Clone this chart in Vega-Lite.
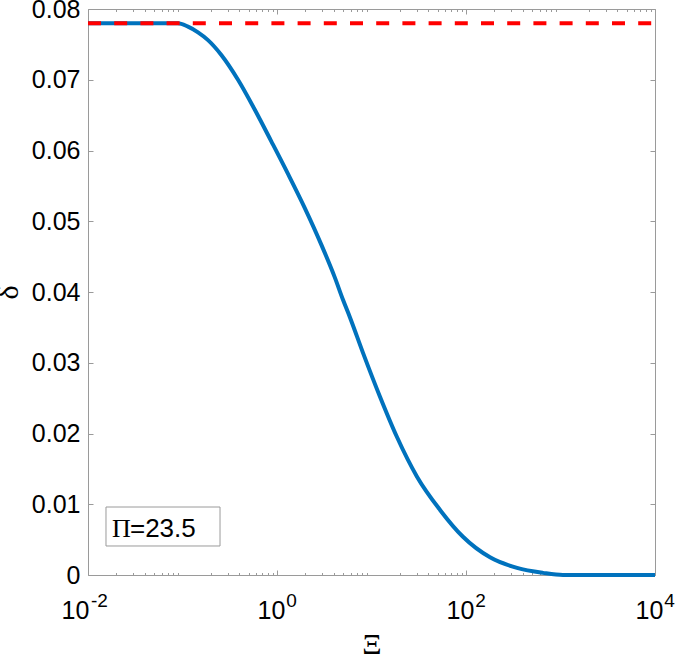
{
  "$schema": "https://vega.github.io/schema/vega-lite/v6.json",
  "width": 567,
  "height": 566,
  "autosize": {"type": "none"},
  "padding": {"left": 88, "top": 9, "right": 20, "bottom": 79},
  "background": "white",
  "config": {
    "view": {"stroke": "#9a9a9a", "strokeWidth": 1},
    "axis": {"grid": false, "domain": false, "tickColor": "#9a9a9a", "tickWidth": 1, "labelColor": "black", "titleColor": "black", "titleFontWeight": "normal"}
  },
  "datasets": {
    "curve": [
      {"xi": 0.01, "delta": 0.078},
      {"xi": 0.03, "delta": 0.078},
      {"xi": 0.06, "delta": 0.078},
      {"xi": 0.0895, "delta": 0.0780},
      {"xi": 0.1143, "delta": 0.0775},
      {"xi": 0.1459, "delta": 0.0767},
      {"xi": 0.1862, "delta": 0.0756},
      {"xi": 0.2576, "delta": 0.0735},
      {"xi": 0.3867, "delta": 0.0700},
      {"xi": 0.5808, "delta": 0.0658},
      {"xi": 0.8704, "delta": 0.0613},
      {"xi": 1.307, "delta": 0.0567},
      {"xi": 1.964, "delta": 0.0519},
      {"xi": 2.943, "delta": 0.0467},
      {"xi": 4.079, "delta": 0.0421},
      {"xi": 4.993, "delta": 0.0389},
      {"xi": 5.92, "delta": 0.0364},
      {"xi": 8.13, "delta": 0.0314},
      {"xi": 12.3, "delta": 0.0252},
      {"xi": 18.6, "delta": 0.0195},
      {"xi": 30.3, "delta": 0.0139},
      {"xi": 53.1, "delta": 0.0092},
      {"xi": 92.9, "delta": 0.0054},
      {"xi": 179.5, "delta": 0.0025},
      {"xi": 346.7, "delta": 0.0010},
      {"xi": 653, "delta": 0.0003},
      {"xi": 1062, "delta": 0.0},
      {"xi": 3162, "delta": 0.0},
      {"xi": 10000, "delta": 0.0}
    ],
    "ref": [
      {"xi": 0.01, "delta": 0.078},
      {"xi": 10000, "delta": 0.078}
    ],
    "box": [
      {"x1": 0.0155, "x2": 0.2495, "y1": 0.0041, "y2": 0.00961}
    ],
    "sym": [
      {"xi": 0.01795, "delta": 0.00537, "label": "Π"}
    ],
    "val": [
      {"xi": 0.0278, "delta": 0.00537, "label": "=23.5"}
    ]
  },
  "resolve": {"axis": {"x": "independent", "y": "independent"}},
  "layer": [
    {
      "data": {"name": "curve"},
      "mark": {"type": "line", "color": "#0072BD", "strokeWidth": 4, "interpolate": "monotone"},
      "encoding": {
        "x": {
          "field": "xi", "type": "quantitative",
          "scale": {"type": "log", "domain": [0.01, 10000], "nice": false},
          "axis": {
            "orient": "bottom",
            "values": [0.01, 1, 100, 10000],
            "labelExpr": "'10'",
            "tickSize": -5,
            "labelPadding": 48,
            "labelBaseline": "alphabetic",
            "labelOffset": {"condition": {"test": "datum.value < 0.1", "value": -13}, "value": -6},
            "labelFont": "Liberation Sans",
            "labelFontSize": 25,
            "labelFlush": false,
            "labelOverlap": false,
            "labelBound": false,
            "title": "Ξ",
            "titleFont": "Liberation Serif",
            "titleFontSize": 30,
            "titlePadding": 6
          }
        },
        "y": {
          "field": "delta", "type": "quantitative",
          "scale": {"domain": [0, 0.08], "nice": false, "zero": true},
          "axis": {
            "orient": "left",
            "values": [0, 0.01, 0.02, 0.03, 0.04, 0.05, 0.06, 0.07, 0.08],
            "labelExpr": "datum.value == 0 ? '0' : format(datum.value, '.2f')",
            "tickSize": -5,
            "labelPadding": 13,
            "labelFont": "Liberation Sans",
            "labelFontSize": 25,
            "labelFlush": false,
            "labelOverlap": false,
            "labelBound": false,
            "title": "δ",
            "titleFont": "Liberation Serif",
            "titleFontSize": 30,
            "titlePadding": 8
          }
        }
      }
    },
    {
      "data": {"name": "ref"},
      "mark": {"type": "line", "color": "#FF0000", "strokeWidth": 4, "strokeDash": [13, 13.2]},
      "encoding": {
        "x": {
          "field": "xi", "type": "quantitative",
          "scale": {"type": "log", "domain": [0.01, 10000], "nice": false},
          "axis": {
            "orient": "bottom",
            "values": [0.02, 0.03, 0.04, 0.05, 0.06, 0.07, 0.08, 0.09, 0.2, 0.3, 0.4, 0.5, 0.6, 0.7, 0.8, 0.9, 2, 3, 4, 5, 6, 7, 8, 9, 20, 30, 40, 50, 60, 70, 80, 90, 200, 300, 400, 500, 600, 700, 800, 900, 2000, 3000, 4000, 5000, 6000, 7000, 8000, 9000],
            "labels": false,
            "tickSize": -2.5,
            "title": null
          }
        },
        "y": {
          "field": "delta", "type": "quantitative",
          "scale": {"domain": [0, 0.08], "nice": false, "zero": true},
          "axis": {
            "orient": "right",
            "values": [0, 0.01, 0.02, 0.03, 0.04, 0.05, 0.06, 0.07, 0.08],
            "labels": false,
            "tickSize": -5,
            "title": null
          }
        }
      }
    },
    {
      "data": {"name": "box"},
      "mark": {"type": "rect", "fill": "white", "stroke": "#9a9a9a", "strokeWidth": 1},
      "encoding": {
        "x": {
          "field": "x1", "type": "quantitative",
          "scale": {"type": "log", "domain": [0.01, 10000], "nice": false},
          "axis": {
            "orient": "top",
            "values": [0.01, 1, 100, 10000],
            "labels": false,
            "tickSize": -5,
            "title": null
          }
        },
        "x2": {"field": "x2"},
        "y": {
          "field": "y1", "type": "quantitative",
          "scale": {"domain": [0, 0.08], "nice": false, "zero": true},
          "axis": null
        },
        "y2": {"field": "y2"}
      }
    },
    {
      "data": {"name": "sym"},
      "mark": {"type": "text", "align": "left", "baseline": "alphabetic", "font": "Liberation Serif", "fontSize": 26, "color": "black"},
      "encoding": {
        "x": {
          "field": "xi", "type": "quantitative",
          "scale": {"type": "log", "domain": [0.01, 10000], "nice": false},
          "axis": {
            "orient": "top",
            "values": [0.02, 0.03, 0.04, 0.05, 0.06, 0.07, 0.08, 0.09, 0.2, 0.3, 0.4, 0.5, 0.6, 0.7, 0.8, 0.9, 2, 3, 4, 5, 6, 7, 8, 9, 20, 30, 40, 50, 60, 70, 80, 90, 200, 300, 400, 500, 600, 700, 800, 900, 2000, 3000, 4000, 5000, 6000, 7000, 8000, 9000],
            "labels": false,
            "tickSize": -2.5,
            "title": null
          }
        },
        "y": {
          "field": "delta", "type": "quantitative",
          "scale": {"domain": [0, 0.08], "nice": false, "zero": true},
          "axis": null
        },
        "text": {"field": "label"}
      }
    },
    {
      "data": {"name": "val"},
      "mark": {"type": "text", "align": "left", "baseline": "alphabetic", "font": "Liberation Sans", "fontSize": 26, "color": "black"},
      "encoding": {
        "x": {
          "field": "xi", "type": "quantitative",
          "scale": {"type": "log", "domain": [0.01, 10000], "nice": false},
          "axis": {
            "orient": "bottom",
            "values": [0.01, 1, 100, 10000],
            "ticks": false,
            "labelExpr": "datum.value < 0.1 ? '-2' : datum.value < 10 ? '0' : datum.value < 1000 ? '2' : '4'",
            "labelPadding": 31.5,
            "labelBaseline": "alphabetic",
            "labelOffset": {"condition": {"test": "datum.value < 0.1", "value": 11}, "value": 14}, 
            "labelFont": "Liberation Sans",
            "labelFontSize": 19,
            "labelFlush": false,
            "labelOverlap": false,
            "labelBound": false,
            "title": null
          }
        },
        "y": {
          "field": "delta", "type": "quantitative",
          "scale": {"domain": [0, 0.08], "nice": false, "zero": true},
          "axis": null
        },
        "text": {"field": "label"}
      }
    }
  ]
}
